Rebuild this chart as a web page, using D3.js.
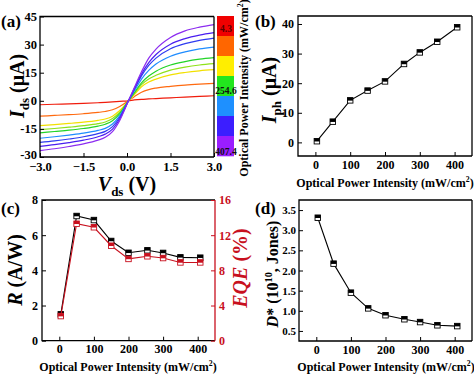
<!DOCTYPE html>
<html><head><meta charset="utf-8">
<script src="https://cdn.jsdelivr.net/npm/d3@7"></script>
<style>
body{margin:0;background:#fff;}
svg text{font-family:"Liberation Serif","Times New Roman",serif;font-weight:bold;}
</style></head>
<body><svg id="c" width="474" height="374"></svg>
<script>
// ---------- DATA ----------
const vds = [-3, -2.5, -2, -1.5, -1, -0.75, -0.5, -0.25, 0.05, 0.25, 0.5, 0.75, 1, 1.5, 2, 2.5, 3];
const ivPower = [4.3, 50, 100, 150, 200, 254.6, 300, 350, 407.4];
const ivColors = ["#f01c0c", "#ff6a10", "#f2e000", "#8fe21a", "#22d428", "#1e8cff", "#2f3cf0", "#4a1ef0", "#8c2cf0"];
const ivCurves = [
  [-2.1, -1.85, -1.6, -1.35, -1.05, -0.85, -0.6, -0.3, 0, 0.45, 0.8, 1.0, 1.2, 1.6, 2.0, 2.35, 2.7],
  [-8.2, -7.8, -7.4, -6.9, -6.2, -5.7, -4.8, -3.0, 0, 2.2, 4.6, 6.0, 6.8, 7.7, 8.4, 8.9, 9.3],
  [-13.2, -12.7, -12.1, -11.4, -10.4, -9.7, -8.2, -5.2, 0, 3.3, 7.5, 10.0, 11.6, 13.8, 15.1, 16.0, 16.6],
  [-15.4, -14.8, -14.1, -13.3, -12.2, -11.3, -9.5, -6.1, 0, 3.8, 8.6, 11.6, 13.6, 16.4, 18.0, 19.1, 19.8],
  [-17.1, -16.4, -15.7, -14.8, -13.5, -12.5, -10.6, -6.8, 0, 4.3, 9.6, 13.2, 15.8, 19.1, 20.9, 22.2, 23.0],
  [-20.0, -19.2, -18.3, -17.3, -15.8, -14.7, -12.4, -7.9, 0, 5.2, 11.6, 16.2, 19.6, 23.8, 26.1, 27.7, 28.7],
  [-22.2, -21.4, -20.4, -19.2, -17.5, -16.3, -13.8, -8.8, 0, 6.0, 13.3, 18.9, 22.8, 27.8, 30.5, 32.3, 33.5],
  [-24.3, -23.4, -22.3, -21.0, -19.2, -17.8, -15.1, -9.6, 0, 6.5, 14.3, 20.4, 24.7, 30.2, 33.2, 35.1, 36.4],
  [-26.6, -25.6, -24.4, -23.0, -21.0, -19.5, -16.5, -10.5, 0, 7.0, 15.5, 22.8, 27.6, 33.8, 37.3, 39.3, 40.7]
];
const cbColors = ["#f00000", "#ff6600", "#ffee00", "#22e61e", "#1e90ff", "#3c1eff", "#9a1eff"];
const cbLabels = ["4.3", "254.6", "407.4"];
const power = [4.3, 50, 100, 150, 200, 254.6, 300, 350, 407.4];
const iph = [0.4, 7.0, 14.2, 17.5, 20.6, 26.5, 30.4, 34.0, 38.9];
const resp = [1.5, 7.09, 6.86, 5.67, 5.0, 5.14, 4.99, 4.74, 4.72];
const eqe = [2.8, 13.3, 12.9, 10.8, 9.3, 9.6, 9.4, 8.9, 8.9];
const dstar = [3.31, 2.17, 1.45, 1.06, 0.89, 0.79, 0.72, 0.64, 0.62];
const vTicks = [-3, -1.5, 0, 1.5, 3];
const iTicks = [-30, -15, 0, 15, 30, 45];
const pTicks = [0, 100, 200, 300, 400];
const iphTicks = [0, 10, 20, 30, 40];
const rTicks = [0, 2, 4, 6, 8];
const eqeTicks = [0, 4, 8, 12, 16];
const dTicks = [0.5, 1.0, 1.5, 2.0, 2.5, 3.0, 3.5];
const EQE_RED = "#c8101e";

const svg = d3.select("#c");

function frame(x0, x1, y0, y1, rightColor) {
  const g = svg.append("g").attr("fill", "none").attr("stroke-width", 1.3);
  g.append("path").attr("d", `M${x1},${y0}H${x0}V${y1}H${x1}`).attr("stroke", "#000");
  g.append("path").attr("d", `M${x1},${y0}V${y1}`).attr("stroke", rightColor || "#000");
}
function styleAxis(g, size, color) {
  g.select(".domain").remove();
  g.selectAll(".tick line").attr("stroke", color || "#000").attr("stroke-width", 1);
  g.selectAll(".tick text").attr("font-size", size).attr("fill", color || "#000")
    .attr("font-family", "Liberation Serif").attr("font-weight", "bold");
}
function bottomAxis(x, yPos, ticks, fmt, size, pad) {
  const g = svg.append("g").attr("transform", `translate(0,${yPos})`)
    .call(d3.axisBottom(x).tickValues(ticks).tickFormat(fmt).tickSizeInner(-4).tickSizeOuter(0).tickPadding(pad || 4));
  styleAxis(g, size);
}
function leftAxis(y, xPos, ticks, fmt, size, pad) {
  const g = svg.append("g").attr("transform", `translate(${xPos},0)`)
    .call(d3.axisLeft(y).tickValues(ticks).tickFormat(fmt).tickSizeInner(-4).tickSizeOuter(0).tickPadding(pad || 4));
  styleAxis(g, size);
  return g;
}
function addParts(t, parts, size) {
  parts.forEach(p => {
    const s = t.append("tspan").text(p.t);
    if (p.i) s.attr("font-style", "italic");
    if (p.sub) s.attr("font-size", size * 0.65).attr("dy", size * 0.25);
    if (p.sup) s.attr("font-size", size * 0.65).attr("dy", -size * 0.38);
    if (p.dy) s.attr("dy", p.dy);
  });
}
function rotLabel(x, y, parts, size, color) {
  const t = svg.append("text").attr("transform", `translate(${x},${y}) rotate(-90)`)
    .attr("text-anchor", "middle").attr("font-size", size).attr("fill", color || "#000");
  addParts(t, parts, size);
  return t;
}
function hLabel(x, y, parts, size, anchor) {
  const t = svg.append("text").attr("x", x).attr("y", y)
    .attr("text-anchor", anchor || "middle").attr("font-size", size);
  addParts(t, parts, size);
  return t;
}
function markers(data, x, y, color) {
  const s = 5.5;
  const g = svg.append("g");
  data.forEach(d => {
    const cx = x(d[0]), cy = y(d[1]);
    g.append("rect").attr("x", cx - s / 2).attr("y", cy - s / 2).attr("width", s).attr("height", s)
      .attr("fill", "#fff").attr("stroke", color).attr("stroke-width", 0.9);
    g.append("rect").attr("x", cx - s / 2).attr("y", cy - s / 2).attr("width", s).attr("height", s * 0.55)
      .attr("fill", color);
  });
}
function series(xs, ys, x, y, color) {
  const data = xs.map((v, i) => [v, ys[i]]);
  svg.append("path").datum(data).attr("fill", "none").attr("stroke", color).attr("stroke-width", 1.1)
    .attr("d", d3.line().x(d => x(d[0])).y(d => y(d[1])));
  markers(data, x, y, color);
}
const powerLabel = [{t: "Optical Power Intensity (mW/cm"}, {t: "2", sup: true}, {t: ")", dy: 12 * 0.38}];

// ---------- PANEL A ----------
{
  const x = d3.scaleLinear().domain([-3, 3]).range([40, 214]);
  const y = d3.scaleLinear().domain([-30, 45]).range([157, 16.5]);
  const line = d3.line().x((d, i) => x(vds[i])).y(d => y(d)).curve(d3.curveMonotoneX);
  ivCurves.forEach((c, k) => {
    svg.append("path").datum(c).attr("fill", "none").attr("stroke", ivColors[k])
      .attr("stroke-width", 1.2).attr("d", line);
  });
  frame(40, 214, 16.5, 157);
  bottomAxis(x, 157, vTicks, d3.format(".1f"), 12.5, 5);
  const ga = leftAxis(y, 40, iTicks, d => d, 12.5, 3);
  ga.selectAll(".tick text").filter(d => d === -30).attr("dy", "0.1em");
  hLabel(127, 191, [{t: "V", i: true}, {t: "ds", sub: true}, {t: " (V)", dy: -20 * 0.25}], 20);
  rotLabel(24, 86, [{t: "I", i: true}, {t: "ds", sub: true}, {t: " (\u03bcA)", dy: -20 * 0.25}], 20);
  svg.append("text").attr("x", 1).attr("y", 27).attr("font-size", 17).text("(a)");
  // colour bar
  const cb = d3.scaleBand().domain(d3.range(cbColors.length)).range([16, 156]);
  svg.append("g").selectAll("rect").data(cbColors).join("rect")
    .attr("x", 217).attr("width", 17).attr("y", (d, i) => cb(i)).attr("height", cb.bandwidth() + 0.3)
    .attr("fill", d => d);
  const cbPos = [28.5, 90, 151];
  cbLabels.forEach((l, i) => {
    svg.append("text").attr("x", 226).attr("y", cbPos[i] + 3.5).attr("text-anchor", "middle")
      .attr("font-size", 9.5).attr("fill", i === 0 ? "#5a0000" : "#111").text(l);
  });
  rotLabel(248, 88, powerLabel, 12);
}

// ---------- PANEL B ----------
{
  const x = d3.scaleLinear().domain([-50, 450]).range([298, 472]);
  const y = d3.scaleLinear().domain([-4.6, 42.7]).range([156, 16]);
  frame(298, 472, 16, 156);
  bottomAxis(x, 156, pTicks, d => d, 12);
  leftAxis(y, 298, iphTicks, d => d, 12);
  series(power, iph, x, y, "#000");
  hLabel(385, 187, powerLabel, 12);
  rotLabel(276, 90, [{t: "I", i: true}, {t: "ph", sub: true}, {t: " (\u03bcA)", dy: -20 * 0.25}], 20);
  svg.append("text").attr("x", 255).attr("y", 27).attr("font-size", 17).text("(b)");
}

// ---------- PANEL C ----------
{
  const x = d3.scaleLinear().domain([-50, 450]).range([42, 215]);
  const y = d3.scaleLinear().domain([0, 8]).range([340.7, 200]);
  const y2 = d3.scaleLinear().domain([0, 16]).range([340.7, 200]);
  frame(42, 215, 200, 340.7, EQE_RED);
  bottomAxis(x, 340.7, pTicks, d => d, 12);
  leftAxis(y, 42, rTicks, d => d, 12);
  const g2 = svg.append("g").attr("transform", "translate(215,0)")
    .call(d3.axisRight(y2).tickValues(eqeTicks).tickSizeInner(-4).tickSizeOuter(0).tickPadding(4));
  styleAxis(g2, 12, EQE_RED);
  series(power, resp, x, y, "#000");
  series(power, eqe, x, y2, EQE_RED);
  hLabel(128, 371, powerLabel, 12);
  rotLabel(22, 270, [{t: "R", i: true}, {t: " (A/W)"}], 20);
  rotLabel(247, 268, [{t: "EQE", i: true}, {t: " (%)"}], 20, EQE_RED);
  svg.append("text").attr("x", 1).attr("y", 214).attr("font-size", 17).text("(c)");
}

// ---------- PANEL D ----------
{
  const x = d3.scaleLinear().domain([-50, 450]).range([299, 472]);
  const y = d3.scaleLinear().domain([0.25, 3.75]).range([341, 200]);
  frame(299, 472, 200, 341);
  bottomAxis(x, 341, pTicks, d => d, 12);
  leftAxis(y, 299, dTicks, d3.format(".1f"), 11, 3);
  series(power, dstar, x, y, "#000");
  hLabel(386, 371, powerLabel, 12);
  rotLabel(278, 274, [{t: "D", i: true}, {t: "* (10"}, {t: "10", sup: true}, {t: ", Jones)", dy: 16 * 0.38}], 16);
  svg.append("text").attr("x", 255).attr("y", 214).attr("font-size", 17).text("(d)");
}
</script></body></html>
